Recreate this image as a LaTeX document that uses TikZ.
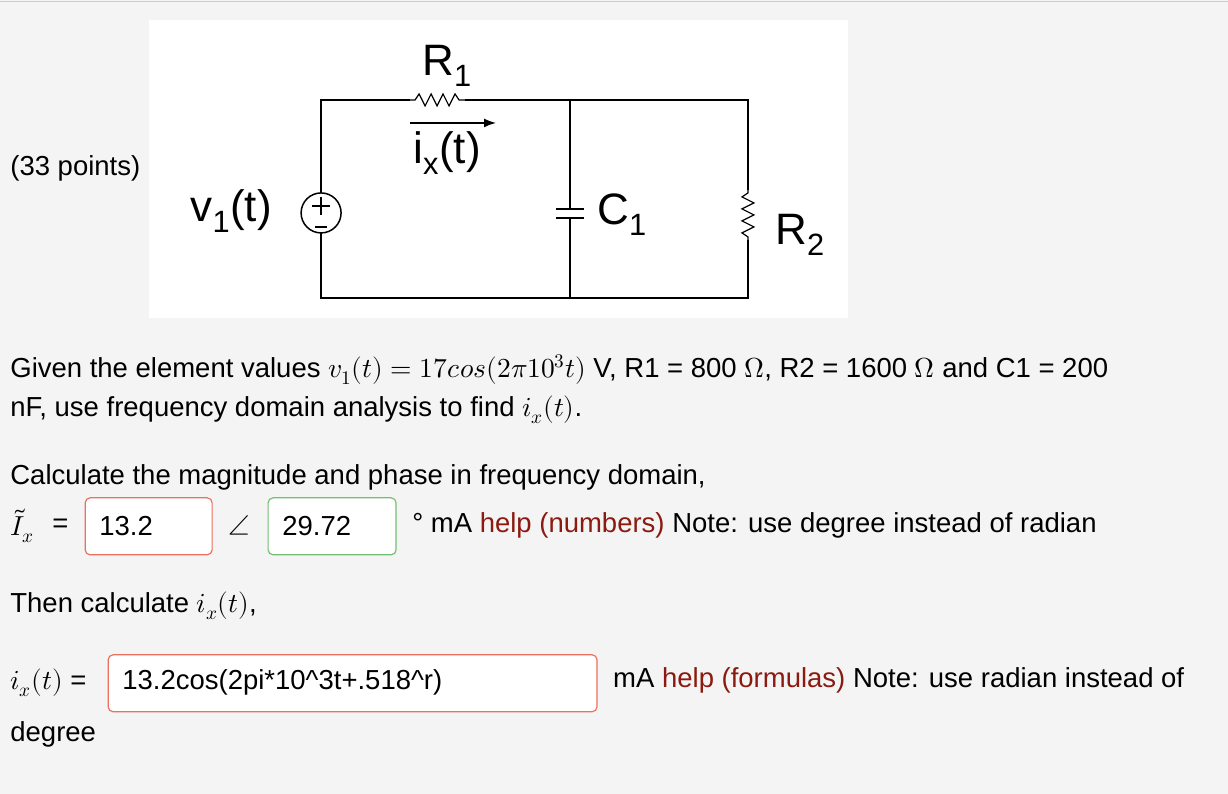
\documentclass[tikz,border=0pt]{standalone}
\usepackage{fontspec}
\usepackage{unicode-math}
\setmathfont{Latin Modern Math}
\setmainfont{Liberation Sans}
\usetikzlibrary{arrows.meta}
\definecolor{bg}{HTML}{F4F4F4}
\definecolor{hl}{HTML}{8B1A10}
\begin{document}
\begin{tikzpicture}[x=1pt,y=-1pt,
  txt/.style={anchor=west,inner sep=0pt,font=\fontsize{27.5}{32}\selectfont},
  lbl/.style={inner sep=0pt,font=\fontsize{44}{48}\selectfont},
  wire/.style={line width=1.5pt},
  inbox/.style={draw=#1,line width=1.2pt,rounded corners=5pt,fill=white},
  link/.style={txt,text=hl}]
\fill[bg] (0,0) rectangle (1228,794);
\draw[gray!40] (0,1) -- (1228,1);
\fill[white] (149,20) rectangle (848,318);
% wires
\draw[wire] (321,193) -- (321,100) -- (410,100);
\draw[wire] (465,100) -- (748,100) -- (748,190);
\draw[wire] (748,240) -- (748,298) -- (321,298) -- (321,233);
\draw[wire] (570,100) -- (570,209);
\draw[wire] (570,218) -- (570,298);
\draw[wire] (556,209) -- (584,209);
\draw[wire] (556,218) -- (584,218);
% R1
\draw[line width=1.2pt] (410,100) -- (415,100) -- (419,94) -- (425,106) -- (431,94) -- (437,106) -- (443,94) -- (449,106) -- (455,94) -- (459,100) -- (465,100);
% R2
\draw[line width=1.2pt] (748,190) -- (748,193) -- (742,197) -- (754,203) -- (742,209) -- (754,215) -- (742,221) -- (754,227) -- (742,233) -- (748,237) -- (748,240);
% arrow
\draw[line width=1.5pt,-{Latex[length=12pt,width=9pt]}] (410,123) -- (496,123);
% source
\node[draw,circle,line width=1.5pt,minimum size=40pt,inner sep=0pt] (src) at (321,213) {};
\draw[line width=2pt] (312,206) -- (330,206) (321,197) -- (321,215) (315,227) -- (327,227);
% labels
\node[lbl] (r1) at (447,66) {R\textsubscript{1}};
\node[lbl] (ix) at (447,153) {i\textsubscript{x}(t)};
\node[lbl] (v1) at (231,211) {v\textsubscript{1}(t)};
\node[lbl] (c1) at (622,215) {C\textsubscript{1}};
\node[lbl] (r2) at (800,235) {R\textsubscript{2}};
\node[txt] (pts) at (10,168) {(33 points)};
% text
\node[txt] (l1) at (10,370) {Given the element values $v_1(t) = 17cos(2\pi 10^3t)$ V, R1 = 800 $\Omega$, R2 = 1600 $\Omega$ and C1 = 200};
\node[txt] (l2) at (10,410) {nF, use frequency domain analysis to find $i_x(t)$.};
\node[txt] (l3) at (10,478) {Calculate the magnitude and phase in frequency domain,};
\node[txt] (ixt) at (10,526) {$\tilde{I}_x$};
\node[txt] (eq) at (52,526) {=};
\draw[inbox=red!60!brown!70] (85,498) rectangle (212,555);
\node[txt] (b1) at (99,526) {13.2};
\node[txt] (ang) at (228,526) {$\angle$};
\draw[inbox=green!55!black!55] (268,498) rectangle (396,555);
\node[txt] (b2) at (282,526) {29.72};
\node[txt] (deg) at (412,526) {\textdegree\ mA \textcolor{hl}{help (numbers)} Note: use degree instead of radian};
\node[txt] (l5) at (10,606) {Then calculate $i_x(t)$,};
\node[txt] (ixl) at (10,683) {$i_x(t)$ =};
\draw[inbox=red!60!brown!70] (108,655) rectangle (597,712);
\node[txt] (b3) at (122,683) {13.2cos(2pi*10\^{}3t+.518\^{}r)};
\node[txt] (ma) at (613,681) {mA \textcolor{hl}{help (formulas)} Note: use radian instead of};
\node[txt] (dg) at (10,735) {degree};
\end{tikzpicture}
\end{document}
